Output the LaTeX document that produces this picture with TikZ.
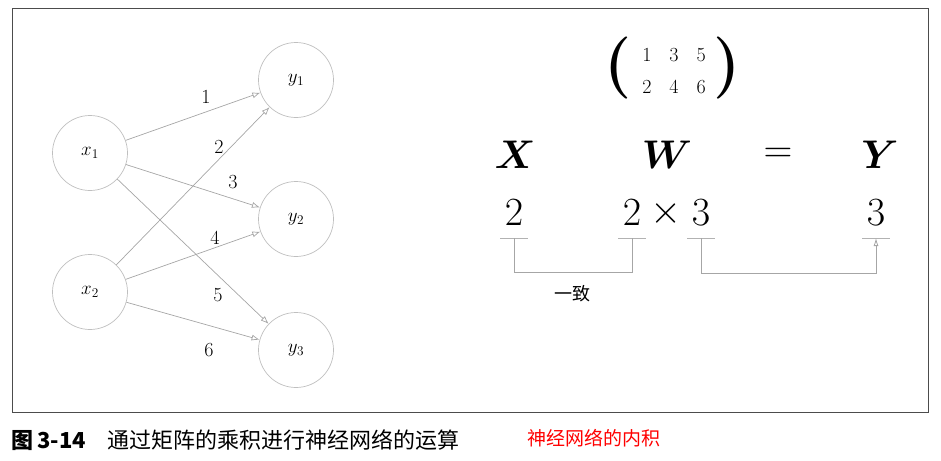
\documentclass[tikz,border=0pt]{standalone}
\usepackage{fix-cm}
\usepackage{amsmath,bm}
\usepackage{fontspec}
\newfontfamily\cjk{Noto Sans CJK SC}
\usetikzlibrary{arrows.meta}
\newcommand{\fs}[1]{\fontsize{#1}{#1}\selectfont}
\begin{document}
\begin{tikzpicture}[x=1pt,y=-1pt,
  neuron/.style={circle,draw=black!25,line width=0.7pt,minimum size=75pt,inner sep=0pt,font=\fs{19}},
  conn/.style={draw=black!35,line width=0.7pt,-{Latex[open,length=8pt,width=6pt]}},
  wlab/.style={font=\fs{20}},
  big/.style={font=\fs{40}},
  num/.style={font=\fs{40}},
  uline/.style={draw=black!30,line width=0.8pt},
  brk/.style={draw=black!35,line width=0.8pt}]
\useasboundingbox (0,0) rectangle (941,460);
\draw[black!70] (12,8) rectangle (928,412);
\node[neuron] (x1) at (90,153) {$x_1$};
\node[neuron] (x2) at (90,292) {$x_2$};
\node[neuron] (y1) at (296,80) {$y_1$};
\node[neuron] (y2) at (296,219) {$y_2$};
\node[neuron] (y3) at (296,350) {$y_3$};
\foreach \s in {x1,x2}\foreach \t in {y1,y2,y3}{\draw[conn] (\s) -- (\t);}
\node[wlab] (w1) at (206,97) {1};
\node[wlab] (w2) at (219,147) {2};
\node[wlab] (w3) at (233,182) {3};
\node[wlab] (w4) at (215,238) {4};
\node[wlab] (w5) at (218,295) {5};
\node[wlab] (w6) at (209,350) {6};
\node[font=\fs{20}] (m) at (674,73) {$\begin{matrix}1&\hspace{8pt}3&\hspace{8pt}5\\[12pt]2&\hspace{8pt}4&\hspace{8pt}6\end{matrix}$};
\node[font=\fs{62}] (lp) at (618,68) {$\bm{(}$};
\node[font=\fs{62}] (rp) at (727,68) {$\bm{)}$};
\node[big] (X) at (515,155) {$\bm{X}$};
\node[big] (W) at (667,155) {$\bm{W}$};
\node[big] (eq) at (778,155) {$=$};
\node[big] (Y) at (880,155) {$\bm{Y}$};
\node[num] (n1) at (514,213) {$2$};
\node[num] (n2) at (632,213) {$2$};
\node[num] (tm) at (666,213) {$\times$};
\node[num] (n3) at (701,213) {$3$};
\node[num] (n4) at (876,213) {$3$};
\coordinate (u1) at (514,238); \coordinate (u2) at (632,238);
\coordinate (u3) at (701,238); \coordinate (u4) at (876,238);
\draw[uline] (500,238) -- (528,238); \draw[uline] (618,238) -- (646,238);
\draw[uline] (687,238) -- (715,238); \draw[uline] (862,238) -- (890,238);
\draw[brk] (u1) -- ++(0,34) -| (u2);
\draw[brk,-{Latex[open,length=8pt,width=5pt]}] (u3) -- ++(0,35) -| (u4);
\node[font=\cjk\fs{18}] (yz) at (572,294) {一致};
\node[anchor=west,font=\cjk\fs{22}] (cap) at (8,440) {\textbf{图\,3-14}\quad 通过矩阵的乘积进行神经网络的运算};
\node[anchor=west,font=\cjk\fs{19},text=red] (note) at (524,438) {神经网络的内积};
\end{tikzpicture}
\end{document}
